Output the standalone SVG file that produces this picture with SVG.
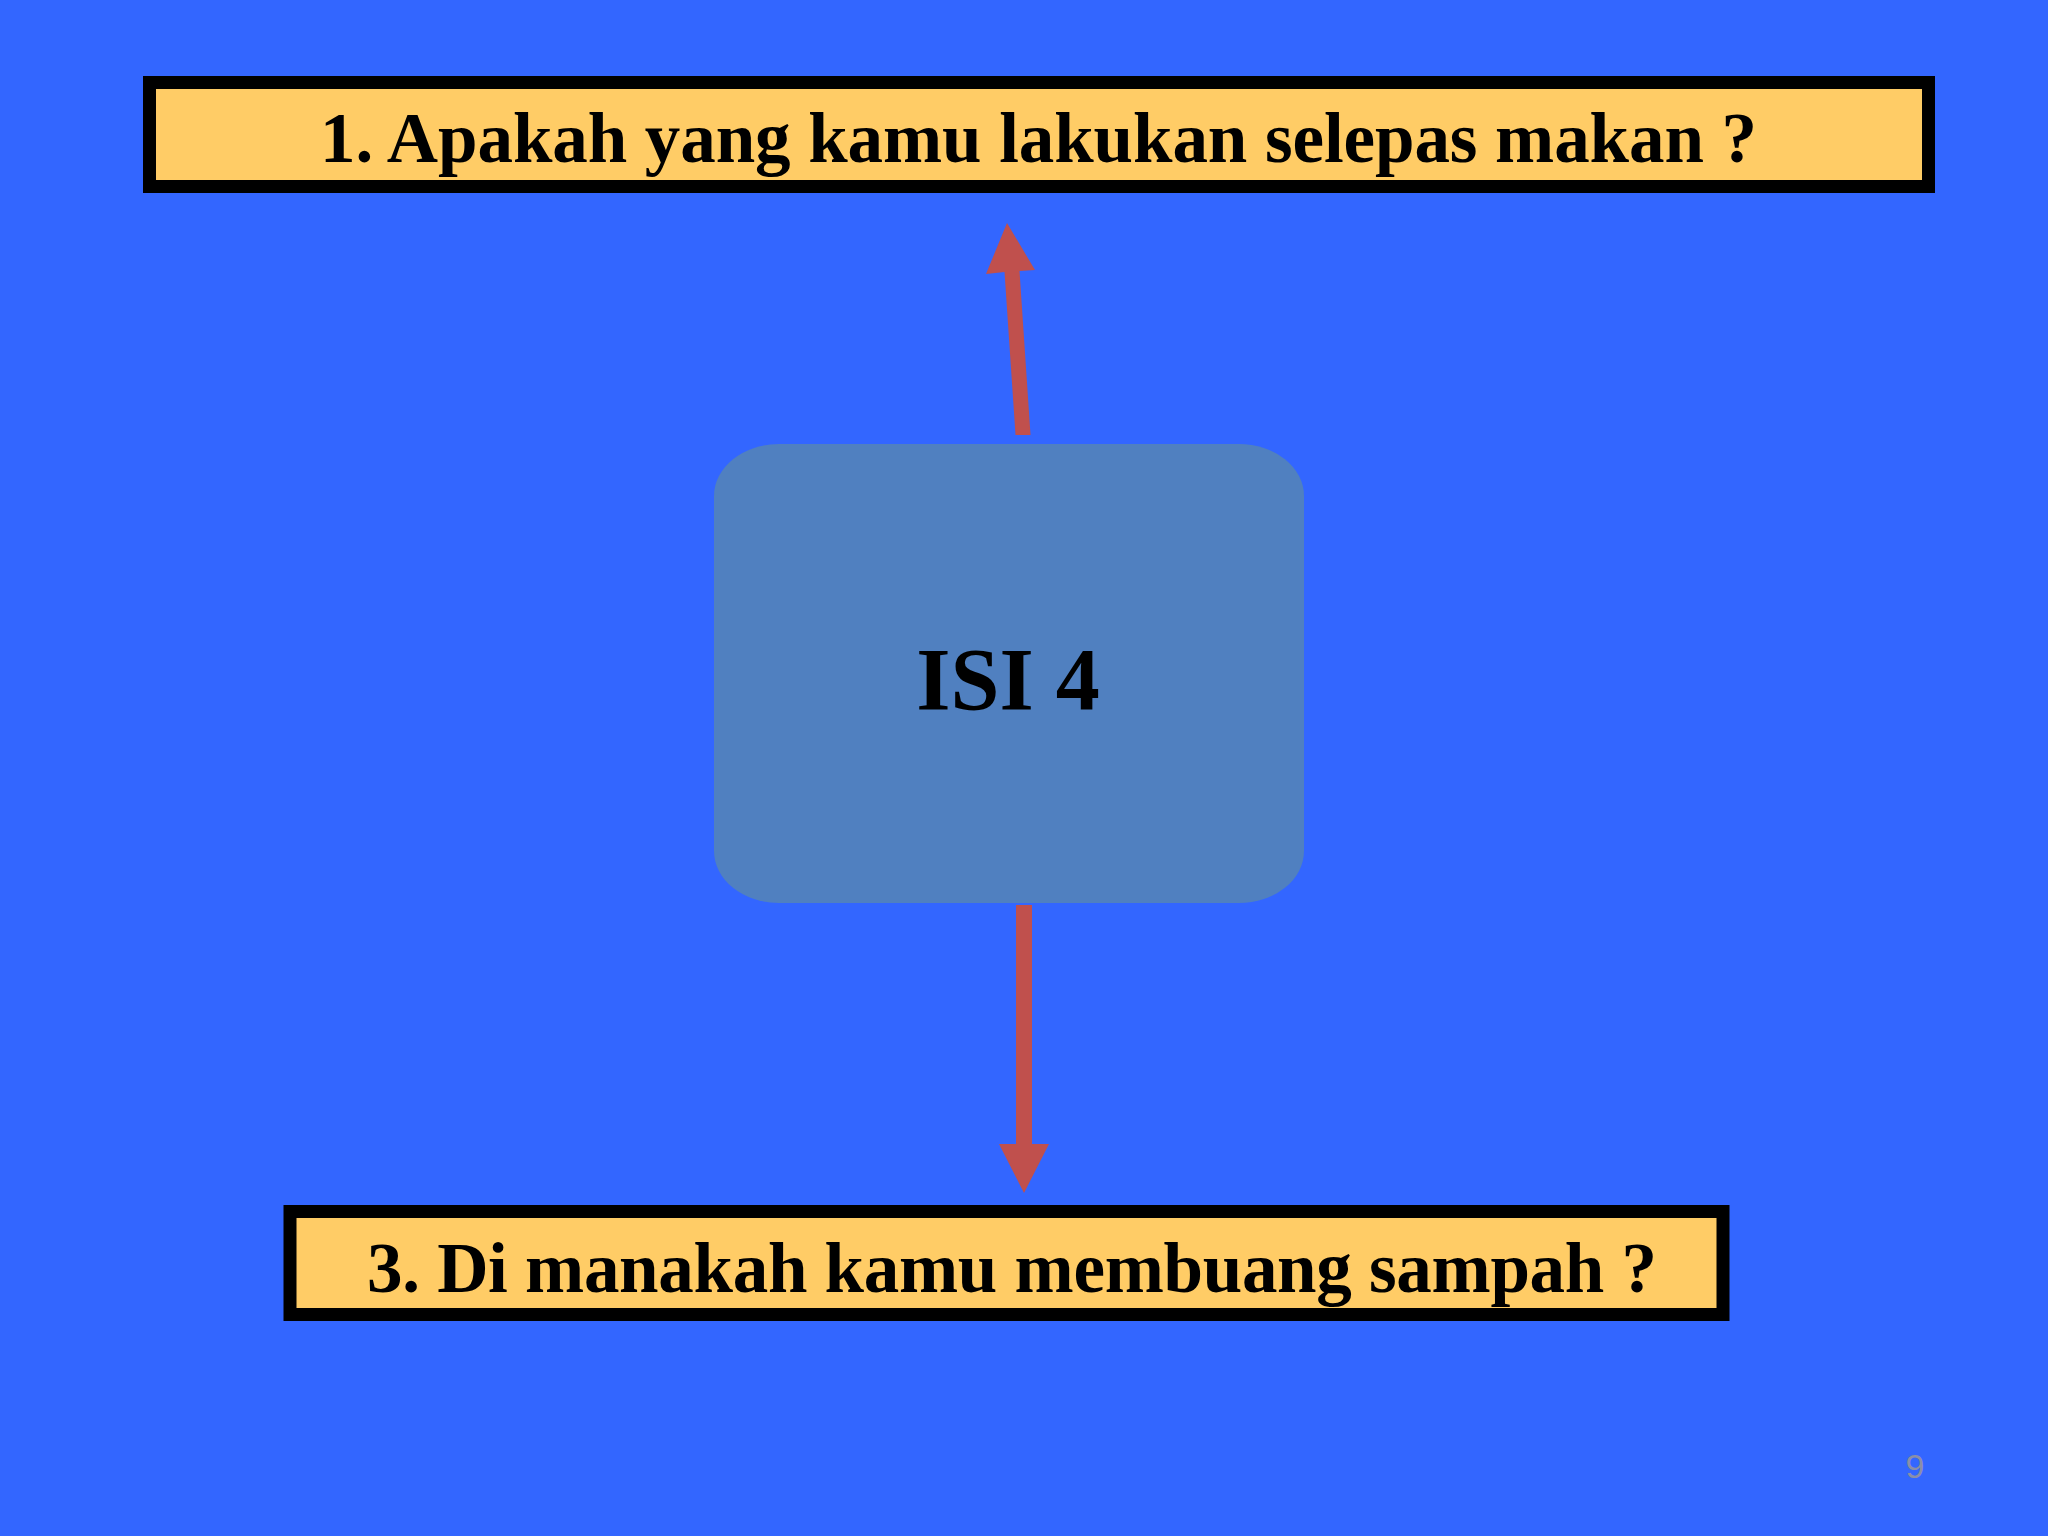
<svg xmlns="http://www.w3.org/2000/svg" width="2048" height="1536" viewBox="0 0 2048 1536">
<style>
.q{fill:#FFCC66;stroke:#000;stroke-width:13}
.qt{font-family:"Liberation Serif","Times New Roman",serif;font-weight:bold;font-size:71px;fill:#000}
.arrow{fill:#C0504D}
</style>
<rect width="2048" height="1536" fill="#3366FF"/>
<g id="node-q1">
<rect class="q" x="149.5" y="82.5" width="1779" height="104"/>
<text class="qt" x="320" y="162" textLength="1437" lengthAdjust="spacing">1. Apakah yang kamu lakukan selepas makan ?</text>
</g>
<g id="node-center">
<path d="M779,444 H1239 A65,52 0 0 1 1304,496 V851 A65,52 0 0 1 1239,903 H779 A65,52 0 0 1 714,851 V496 A65,52 0 0 1 779,444 Z" fill="#5080C0"/>
<text x="1008" y="709" font-family="Liberation Serif,'Times New Roman',serif" font-weight="bold" font-size="88" text-anchor="middle" fill="#000">ISI 4</text>
</g>
<g id="node-q3">
<rect class="q" x="290" y="1211.5" width="1433" height="103"/>
<text class="qt" x="367" y="1292" textLength="1290" lengthAdjust="spacing">3. Di manakah kamu membuang sampah ?</text>
</g>
<g id="connectors">
<polygon class="arrow" points="1015.5,435 1030.5,435 1019.5,271 1035,270 1007,223 986,274 1004.5,272"/>
<polygon class="arrow" points="1016,905 1032,905 1032,1144 1049,1144 1024,1193 999,1144 1016,1144"/>
</g>
<text x="1915" y="1478" font-family="Liberation Sans,Arial,sans-serif" font-size="34" text-anchor="middle" fill="#8A8FA8">9</text>
</svg>
